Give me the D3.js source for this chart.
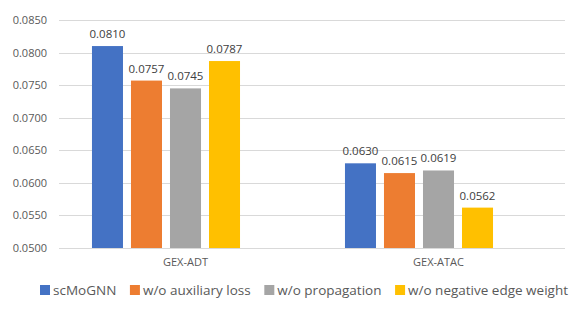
<!DOCTYPE html>
<html><head><meta charset="utf-8">
<script src="https://cdn.jsdelivr.net/npm/d3@7"></script>
<style>body{margin:0;background:#fff}svg{display:block}text{font-family:"Open Sans",sans-serif}</style>
</head><body><svg id="c" width="581" height="313"></svg>
<script>
const categories = ["GEX-ADT", "GEX-ATAC"];
const seriesNames = ["scMoGNN", "w/o auxiliary loss", "w/o propagation", "w/o negative edge weight"];
const seriesColors = ["#4472C4", "#ED7D31", "#A5A5A5", "#FFC000"];
const values = [
  [0.0810, 0.0757, 0.0745, 0.0787],
  [0.0630, 0.0615, 0.0619, 0.0562]
];
const yTicks = [0.0500, 0.0550, 0.0600, 0.0650, 0.0700, 0.0750, 0.0800, 0.0850];

const svg = d3.select("#c");
const L = 59, R = 565, T = 20, B = 248;
const y = d3.scaleLinear().domain([0.05, 0.085]).range([B, T]);
const x0 = d3.scaleBand().domain(categories).range([L, R]).paddingInner(0.229).paddingOuter(0.1145);
const slots = seriesNames.concat(["_empty"]);
const x1 = d3.scaleBand().domain(slots).range([0, x0.bandwidth()]).paddingInner(0.205).paddingOuter(0.1025);

svg.append("g").selectAll("line").data(yTicks).join("line")
  .attr("x1", L).attr("x2", R)
  .attr("y1", d => Math.round(y(d)) + 0.5).attr("y2", d => Math.round(y(d)) + 0.5)
  .attr("stroke", "#d9d9d9").attr("stroke-width", 1);

const yAxis = d3.axisLeft(y).tickValues(yTicks).tickFormat(d3.format(".4f")).tickSize(0).tickPadding(0);
const ya = svg.append("g").attr("transform", `translate(47,0)`).call(yAxis);
ya.select(".domain").remove();
ya.selectAll("text").attr("fill", "#595959").style("font-size", "11px").style("font-family", "'Open Sans',sans-serif");

const g = svg.append("g").selectAll("g").data(categories).join("g")
  .attr("transform", d => `translate(${x0(d)},0)`);
g.selectAll("rect").data((d, i) => values[i].map((v, j) => ({v, s: seriesNames[j], c: seriesColors[j]})))
  .join("rect")
  .attr("x", d => x1(d.s)).attr("width", x1.bandwidth())
  .attr("y", d => y(d.v)).attr("height", d => B - y(d.v))
  .attr("fill", d => d.c);
g.selectAll("text.v").data((d, i) => values[i].map((v, j) => ({v, s: seriesNames[j]})))
  .join("text").attr("class", "v")
  .attr("x", d => x1(d.s) + x1.bandwidth() / 2)
  .attr("y", d => y(d.v) - 8)
  .attr("text-anchor", "middle").attr("fill", "#404040").style("font-size", "11.5px")
  .text(d => d3.format(".4f")(d.v));

const xAxis = d3.axisBottom(x0).tickSize(0).tickPadding(0);
const xa = svg.append("g").attr("transform", `translate(0,${B + 10})`).call(xAxis);
xa.select(".domain").remove();
xa.selectAll("text").attr("fill", "#595959").style("font-size", "11px").style("font-family", "'Open Sans',sans-serif");

// legend: measured layout, spanning x 40..568
const lg = svg.append("g");
const items = seriesNames.map((s, i) => {
  const it = lg.append("g");
  it.append("rect").attr("y", 285).attr("width", 10).attr("height", 10).attr("fill", seriesColors[i]);
  const t = it.append("text").attr("x", 13).attr("y", 295).attr("fill", "#595959").style("font-size", "13.5px").text(s);
  return {it, w: 13 + t.node().getComputedTextLength()};
});
const total = d3.sum(items, d => d.w);
const gap = (568 - 40 - total) / (items.length - 1);
let cx = 40;
items.forEach(d => { d.it.attr("transform", `translate(${cx},0)`); cx += d.w + gap; });
</script></body></html>
